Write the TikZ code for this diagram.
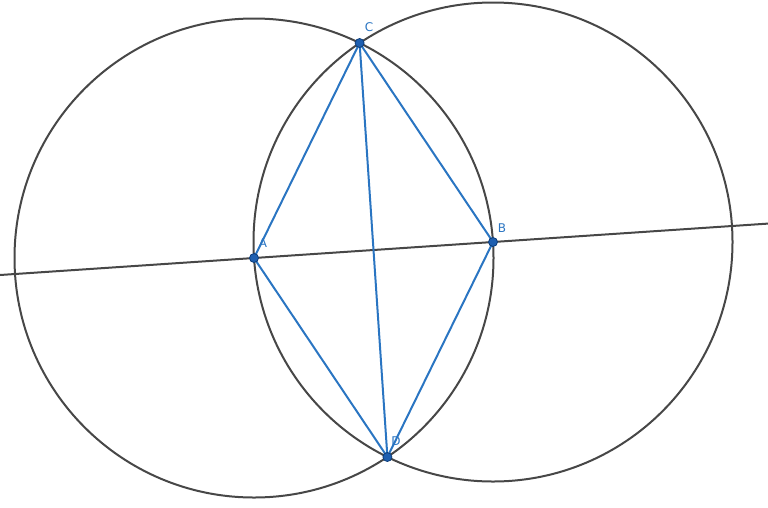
\documentclass[tikz,border=0pt]{standalone}
\usepackage{fontspec}
\setmainfont{DejaVu Sans}
\usetikzlibrary{calc}
\begin{document}
\begin{tikzpicture}[x=1pt,y=-1pt,
  circ/.style={draw=black!72,line width=2pt},
  seg/.style={draw=segblue,line width=2pt},
  pt/.style={circle,fill=ptblue,draw=ptdark,line width=0.8pt,inner sep=0pt,minimum size=9pt},
  lbl/.style={text=lblblue,font=\fontsize{12}{14}\selectfont,inner sep=0pt}]
\definecolor{segblue}{HTML}{2A75C2}
\definecolor{ptblue}{HTML}{1E5FB0}
\definecolor{ptdark}{HTML}{0D3D7A}
\definecolor{lblblue}{HTML}{2A75C2}
\clip (0,0) rectangle (768,507);
\useasboundingbox (0,0) rectangle (768,507);
\coordinate (A) at (254,258);
\coordinate (B) at (493,242);
\coordinate (C) at (359.6,43);
\coordinate (D) at (387.4,457);
\coordinate (L) at ($(A)!-1.2!(B)$);
\coordinate (R) at ($(A)!2.3!(B)$);
\draw[circ] (A) circle (239.5);
\draw[circ] (B) circle (239.5);
\draw[circ] (L) -- (R);
\draw[seg] (A) -- (C) -- (B) -- (D) -- (A);
\draw[seg] (C) -- (D);
\node[pt] (pA) at (A) {};
\node[pt] (pB) at (B) {};
\node[pt] (pC) at (C) {};
\node[pt] (pD) at (D) {};
\node[lbl] (tA) at (263,243) {A};
\node[lbl] (tB) at (502,228) {B};
\node[lbl] (tC) at (369,27) {C};
\node[lbl] (tD) at (396,441) {D};
\end{tikzpicture}
\end{document}
